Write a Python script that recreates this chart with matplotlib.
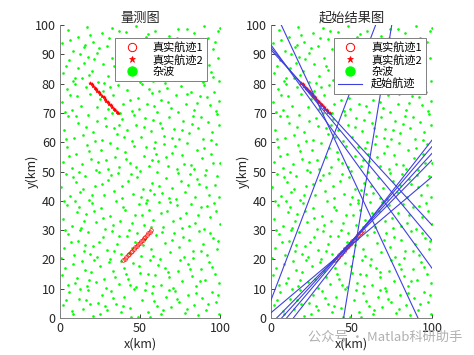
#!/usr/bin/env python3
"""
Measurement plot and track initiation result (two panels), MATLAB style.
"""

import matplotlib
matplotlib.use('Agg')
import matplotlib.pyplot as plt
from matplotlib.lines import Line2D

plt.rcParams['font.family'] = ['Noto Sans CJK SC', 'DejaVu Sans']

# true track 1 (red circles), km
track1_x = [39.6, 40.5, 41.4, 42.4, 43.3, 44.2, 45.1, 46.0, 47.0, 47.9,
            48.8, 49.7, 50.6, 51.6, 52.5, 53.4, 54.3, 55.2, 56.2, 57.1]
track1_y = [19.8, 20.3, 20.9, 21.4, 21.9, 22.5, 23.0, 23.5, 24.1, 24.6,
            25.1, 25.7, 26.2, 26.7, 27.3, 27.8, 28.3, 28.9, 29.4, 29.9]

# true track 2 (red asterisks), km
track2_x = [18.8, 19.7, 20.6, 21.6, 22.5, 23.4, 24.4, 25.3, 26.2, 27.2,
            28.1, 29.0, 30.0, 30.9, 31.8, 32.8, 33.7, 34.6, 35.6, 36.5]
track2_y = [80.3, 79.7, 79.2, 78.6, 78.1, 77.5, 77.0, 76.4, 75.9, 75.3,
            74.8, 74.2, 73.7, 73.1, 72.6, 72.0, 71.5, 70.9, 70.4, 69.9]

# clutter points (x, y) in km
clutter = [
    (2.1, 4.3), (5.7, 8.9), (8.3, 1.2), (11.9, 6.4), (14.2, 3.1), (17.8, 9.5), (20.4, 0.8), (23.6, 5.2),
    (26.1, 7.7), (29.5, 2.6), (31.8, 9.1), (35.2, 4.8), (37.9, 1.9), (40.3, 7.3), (43.7, 3.5), (46.2, 9.8),
    (48.8, 0.5), (51.4, 6.1), (54.9, 2.2), (57.3, 8.4), (60.6, 4.0), (63.1, 1.3), (66.5, 7.0), (69.2, 3.8),
    (71.7, 9.3), (74.4, 5.6), (77.8, 1.7), (80.1, 8.0), (83.6, 4.4), (86.3, 0.9), (89.0, 6.8), (91.5, 2.9),
    (94.8, 9.0), (97.7, 5.3), (99.2, 1.5), (3.9, 6.2), (7.4, 2.3), (12.8, 9.9), (18.6, 4.9), (24.7, 1.4),
    (33.3, 6.9), (39.1, 4.1), (44.6, 0.3), (52.8, 9.4), (58.9, 5.9), (64.2, 2.8), (72.9, 6.6), (79.3, 3.2),
    (85.1, 8.7), (92.7, 4.7), (98.6, 7.9), (16.0, 6.0), (28.0, 4.0), (56.0, 0.2), (67.9, 9.6),
    (1.3, 14.6), (4.8, 11.2), (7.9, 18.3), (10.5, 13.7), (13.6, 19.4), (16.7, 10.9), (19.2, 15.8), (22.8, 12.4),
    (25.3, 17.6), (28.9, 10.2), (30.7, 19.0), (34.1, 14.1), (36.6, 11.7), (39.8, 16.9), (42.4, 13.2), (45.9, 18.8),
    (47.5, 10.6), (50.2, 15.3), (53.7, 12.0), (56.4, 19.7), (59.1, 14.8), (62.8, 11.4), (65.3, 17.1), (68.0, 13.9),
    (70.9, 10.4), (73.6, 16.2), (76.2, 12.7), (79.7, 18.5), (82.3, 14.3), (84.9, 11.0), (88.4, 16.6), (90.8, 13.0),
    (93.3, 19.2), (96.9, 15.1), (99.5, 11.8), (3.2, 17.2), (9.1, 12.1), (15.4, 16.4), (21.5, 19.8), (27.2, 13.4),
    (32.9, 16.0), (38.3, 19.5), (44.0, 11.3), (49.6, 17.9), (55.0, 14.9), (61.3, 18.1), (67.4, 15.6), (74.8, 19.9),
    (81.0, 16.8), (87.2, 12.5), (95.1, 17.4), (57.8, 10.8), (18.0, 13.0), (41.2, 15.0),
    (2.7, 23.9), (5.1, 28.7), (8.8, 21.4), (11.3, 26.2), (14.9, 22.8), (17.4, 29.3), (20.9, 24.6), (23.1, 20.7),
    (26.8, 27.5), (29.4, 23.3), (32.6, 29.8), (35.7, 25.1), (38.2, 21.8), (41.9, 27.9), (45.3, 24.0), (48.1, 29.0),
    (50.8, 21.2), (53.3, 26.8), (56.9, 23.6), (59.7, 28.3), (62.2, 20.3), (65.8, 25.7), (68.6, 22.4), (71.2, 28.9),
    (74.1, 24.3), (77.3, 20.9), (80.5, 26.5), (83.2, 23.0), (86.7, 29.6), (89.6, 25.4), (92.1, 21.6), (95.4, 27.2),
    (98.3, 23.5), (0.6, 20.5), (6.9, 25.8), (12.6, 29.9), (19.0, 21.9), (24.4, 26.0), (31.1, 20.2), (36.9, 28.1),
    (43.1, 22.2), (52.0, 24.8), (58.3, 21.0), (63.9, 29.4), (70.0, 26.7), (76.6, 27.8), (82.9, 20.6), (88.1, 22.7),
    (94.0, 29.1), (99.0, 26.3), (47.0, 26.0), (15.8, 25.0), (34.0, 23.0),
    (1.9, 33.8), (4.4, 38.6), (7.2, 31.3), (10.8, 36.1), (13.1, 30.8), (16.3, 35.5), (19.7, 39.2), (22.2, 32.7),
    (25.9, 37.4), (28.3, 30.4), (31.4, 34.9), (34.8, 39.8), (37.4, 33.2), (40.6, 36.8), (43.4, 30.1), (46.8, 35.0),
    (49.3, 38.9), (52.6, 31.7), (55.5, 37.0), (58.1, 33.6), (61.7, 39.5), (64.4, 31.0), (67.1, 36.5), (70.5, 33.0),
    (73.3, 38.4), (76.0, 30.6), (79.0, 35.8), (81.8, 39.0), (84.3, 32.4), (87.9, 37.8), (90.2, 30.3), (93.7, 34.4),
    (96.2, 39.4), (99.7, 32.0), (3.0, 30.0), (9.6, 39.9), (15.0, 33.0), (21.0, 36.4), (27.0, 34.0), (33.2, 31.9),
    (39.4, 38.0), (45.0, 32.5), (51.0, 35.3), (57.0, 30.9), (62.9, 36.0), (69.0, 39.7), (75.0, 34.1), (80.9, 31.5),
    (86.0, 35.2), (91.9, 38.2), (97.5, 36.6), (54.0, 39.3), (12.0, 37.9),
    (0.9, 44.7), (3.7, 49.1), (6.4, 41.6), (9.9, 46.3), (12.4, 42.9), (15.6, 48.6), (18.3, 40.4), (21.7, 45.2),
    (24.1, 49.7), (27.6, 41.9), (30.2, 47.0), (33.6, 43.4), (36.3, 49.4), (39.0, 40.9), (42.7, 46.6), (45.5, 42.3),
    (48.4, 48.0), (51.9, 44.1), (54.2, 40.2), (57.6, 46.0), (60.3, 49.9), (63.6, 42.6), (66.2, 47.7), (69.7, 44.4),
    (72.3, 40.7), (75.8, 46.9), (78.4, 43.1), (81.4, 49.3), (84.6, 41.2), (87.0, 45.9), (90.6, 48.8), (93.0, 42.0),
    (96.6, 45.5), (99.3, 41.3), (2.4, 40.1), (8.0, 48.2), (14.3, 44.0), (20.2, 42.1), (26.4, 45.7), (32.1, 48.9),
    (38.6, 44.9), (44.3, 49.0), (50.5, 41.4), (56.2, 43.7), (62.0, 45.0), (67.8, 41.0), (73.9, 49.6), (79.9, 45.4),
    (85.7, 47.3), (91.4, 44.6), (97.9, 48.4), (59.0, 42.2),
    (1.6, 53.2), (4.1, 58.4), (7.7, 51.1), (10.2, 55.9), (13.8, 52.5), (16.9, 59.0), (19.4, 54.3), (22.5, 50.6),
    (25.6, 57.2), (28.6, 53.8), (31.2, 59.6), (34.4, 55.0), (37.1, 51.4), (40.9, 56.6), (43.9, 52.8), (46.5, 58.8),
    (49.9, 50.3), (52.4, 55.4), (55.8, 52.0), (58.6, 57.9), (61.1, 53.5), (64.8, 59.3), (67.6, 51.8), (70.2, 56.4),
    (73.0, 50.9), (76.4, 55.6), (79.5, 59.8), (82.0, 52.2), (85.4, 57.5), (88.7, 54.6), (91.2, 50.4), (94.3, 56.1),
    (97.2, 59.4), (99.8, 53.0), (5.8, 55.2), (11.8, 50.0), (17.9, 56.9), (23.8, 53.1), (29.8, 51.0), (35.9, 58.1),
    (41.4, 54.2), (47.6, 51.6), (53.9, 58.3), (60.0, 56.0), (66.0, 54.8), (71.9, 58.6), (77.7, 52.6), (83.8, 50.7),
    (89.9, 58.0), (95.8, 52.9), (57.2, 54.0),
    (2.2, 64.1), (5.3, 68.9), (8.6, 61.5), (11.1, 66.7), (14.5, 62.3), (17.2, 69.4), (20.7, 63.6), (23.4, 67.2),
    (26.3, 60.9), (29.0, 65.5), (32.3, 69.8), (35.5, 62.8), (38.8, 67.9), (41.6, 64.3), (44.8, 60.5), (47.8, 66.0),
    (50.6, 61.9), (53.1, 68.1), (56.7, 63.9), (59.4, 60.2), (62.5, 66.4), (65.0, 62.0), (68.3, 68.6), (71.0, 64.6),
    (74.6, 61.2), (77.1, 67.4), (80.3, 63.2), (83.0, 69.1), (86.1, 65.0), (89.3, 61.0), (92.4, 67.0), (95.0, 63.5),
    (98.0, 69.6), (4.0, 61.0), (10.0, 69.0), (16.0, 65.2), (22.0, 60.3), (27.9, 68.3), (33.9, 64.8), (40.0, 61.7),
    (46.0, 69.2), (52.2, 65.1), (58.0, 67.6), (64.0, 64.9), (69.9, 61.4), (76.0, 64.0), (82.2, 66.1), (88.0, 68.5),
    (94.1, 60.8), (99.4, 65.8), (37.0, 66.0),
    (1.0, 73.6), (4.6, 78.2), (7.3, 71.0), (10.7, 75.7), (13.3, 72.4), (16.1, 79.0), (22.9, 72.0), (26.6, 77.6),
    (29.7, 71.5), (33.0, 76.2), (36.0, 79.5), (39.3, 73.2), (42.1, 77.9), (45.1, 70.6), (48.6, 75.1), (51.2, 79.8),
    (54.5, 72.9), (57.5, 76.8), (60.9, 70.4), (63.4, 74.5), (66.9, 78.6), (69.5, 71.8), (72.6, 76.0), (75.3, 79.3),
    (78.8, 73.0), (81.6, 77.1), (84.0, 70.9), (87.6, 75.8), (90.0, 79.6), (93.5, 72.6), (96.4, 77.3), (99.1, 74.0),
    (3.4, 70.2), (9.2, 79.9), (18.8, 76.4), (24.9, 74.6), (31.0, 78.8), (37.8, 70.1), (43.6, 74.3), (49.1, 71.2),
    (55.6, 78.1), (61.8, 77.4), (67.7, 73.7), (73.8, 70.3), (79.6, 76.6), (85.6, 73.4), (91.7, 75.3), (97.6, 70.7),
    (58.7, 72.2), (6.0, 76.0),
    (2.0, 83.5), (5.5, 88.1), (8.1, 80.8), (11.5, 85.4), (14.0, 81.9), (17.6, 89.0), (20.1, 84.2), (23.7, 80.4),
    (26.9, 86.7), (29.9, 82.6), (32.8, 88.9), (35.1, 84.8), (38.5, 81.3), (41.3, 87.3), (44.2, 83.0), (47.3, 89.5),
    (50.0, 80.7), (53.5, 85.8), (56.1, 82.1), (59.8, 88.4), (62.6, 84.5), (65.6, 80.2), (68.8, 86.2), (71.5, 82.9),
    (74.2, 89.3), (77.5, 85.1), (80.6, 81.5), (83.3, 87.5), (86.6, 83.7), (89.5, 80.5), (92.9, 86.5), (95.6, 82.3),
    (98.8, 88.7), (3.6, 86.0), (9.5, 82.0), (15.3, 86.9), (21.3, 88.3), (27.8, 80.1), (34.0, 86.1), (40.1, 84.0),
    (46.0, 86.6), (52.1, 83.3), (58.4, 80.9), (64.6, 88.0), (70.7, 85.7), (76.8, 81.1), (82.7, 84.9), (88.9, 89.8),
    (94.5, 84.1), (99.6, 81.0), (18.2, 82.8),
    (1.4, 93.7), (4.9, 98.4), (8.4, 91.2), (11.0, 96.0), (14.8, 92.6), (17.0, 99.3), (20.6, 94.1), (23.3, 90.5),
    (26.2, 97.1), (29.2, 93.0), (32.5, 99.0), (35.6, 95.2), (38.1, 91.7), (41.5, 97.6), (44.5, 93.4), (47.7, 99.7),
    (50.9, 90.9), (53.6, 95.9), (56.6, 92.3), (59.6, 98.1), (62.3, 94.4), (65.4, 90.3), (68.1, 96.3), (71.4, 92.8),
    (74.0, 98.8), (77.0, 94.9), (80.0, 91.4), (83.5, 97.4), (86.4, 93.1), (89.8, 99.5), (92.6, 95.7), (95.3, 91.9),
    (98.5, 97.8), (6.5, 95.0), (12.2, 90.1), (18.5, 96.6), (24.6, 92.0), (30.5, 95.5), (36.8, 97.9), (42.9, 90.7),
    (48.9, 94.6), (55.2, 97.0), (61.0, 91.1), (67.2, 93.9), (73.2, 95.4), (79.1, 98.6), (85.0, 90.6), (91.0, 93.6),
    (97.0, 94.2), (99.9, 99.1), (15.9, 93.3),
]
clutter_x = [p[0] for p in clutter]
clutter_y = [p[1] for p in clutter]

# initiated tracks: end points of each straight segment (x0, y0, x1, y1), km
start_tracks = [
    (6.4, 100.0, 91.3, 0.0),
    (0.0, 93.2, 100.0, 17.0),
    (0.0, 92.3, 100.0, 26.5),
    (0.0, 91.5, 100.0, 31.7),
    (0.0, 6.1, 65.0, 100.0),
    (45.1, 0.0, 75.0, 100.0),
    (0.0, 1.8, 100.0, 48.2),
    (3.5, 0.0, 100.0, 53.9),
    (6.6, 0.0, 100.0, 56.2),
    (9.7, 0.0, 100.0, 58.5),
    (13.9, 0.0, 100.0, 60.7),
]

titles = ['量测图', '起始结果图']
legend_labels = ['真实航迹1', '真实航迹2', '杂波', '起始航迹']

GREEN = '#00ff00'
RED = '#ff0000'
LINE_BLUE = '#4040e0'
AXIS_GREY = '#262626'


def style_axes(ax, title):
    ax.set_xlim(0, 100)
    ax.set_ylim(0, 100)
    ax.set_xticks([0, 50, 100])
    ax.set_yticks(range(0, 101, 10))
    ax.tick_params(direction='in', length=3, width=0.6, colors=AXIS_GREY,
                   labelsize=9, pad=3)
    for side in ['top', 'right']:
        ax.spines[side].set_visible(False)
    for side in ['left', 'bottom']:
        ax.spines[side].set_color('#808080')
        ax.spines[side].set_linewidth(0.7)
    ax.set_xlabel('x(km)', fontsize=9, color=AXIS_GREY, labelpad=2)
    ax.set_ylabel('y(km)', fontsize=9, color=AXIS_GREY, labelpad=-3)
    ax.set_title(title, fontsize=9.5, color=AXIS_GREY, pad=2)


def draw_measurements(ax):
    ax.plot(clutter_x, clutter_y, linestyle='none', marker='.', color=GREEN,
            markersize=1.8, zorder=2)
    ax.plot(track1_x, track1_y, linestyle='none', marker='o', markersize=2.6,
            markerfacecolor='none', markeredgecolor=RED, markeredgewidth=0.5, zorder=3)
    ax.plot(track2_x, track2_y, linestyle='none', marker='*', markersize=2.6,
            color=RED, markeredgewidth=0.4, zorder=3)


def legend_handles(with_lines):
    hs = [
        Line2D([], [], linestyle='none', marker='o', markersize=6,
               markerfacecolor='none', markeredgecolor=RED, markeredgewidth=0.7),
        Line2D([], [], linestyle='none', marker='*', markersize=5, color=RED,
               markeredgewidth=0.5),
        Line2D([], [], linestyle='none', marker='o', markersize=6.5, color=GREEN),
    ]
    if with_lines:
        hs.append(Line2D([], [], color=LINE_BLUE, linewidth=0.8))
    return hs


fig = plt.figure(figsize=(4.74, 3.55), dpi=100)
ax1 = fig.add_axes([0.1266, 0.1042, 0.3376, 0.8254])
ax2 = fig.add_axes([0.5717, 0.1042, 0.3397, 0.8254])

# left: measurements only
draw_measurements(ax1)
style_axes(ax1, titles[0])
leg1 = ax1.legend(legend_handles(False), legend_labels[:3], loc='upper right',
                  bbox_to_anchor=(0.955, 0.975), fontsize=8, handlelength=2.2,
                  handletextpad=0.8, borderpad=0.35, labelspacing=0.15,
                  fancybox=False, framealpha=1, edgecolor='#808080')
leg1.get_frame().set_linewidth(0.7)

# right: measurements plus initiated tracks
draw_measurements(ax2)
for x0, y0, x1, y1 in start_tracks:
    ax2.plot([x0, x1], [y0, y1], color=LINE_BLUE, linewidth=0.8, zorder=4)
style_axes(ax2, titles[1])
leg2 = ax2.legend(legend_handles(True), legend_labels, loc='upper right',
                  bbox_to_anchor=(0.995, 0.975), fontsize=8, handlelength=2.2,
                  handletextpad=0.8, borderpad=0.35, labelspacing=0.15,
                  fancybox=False, framealpha=1, edgecolor='#808080')
leg2.get_frame().set_linewidth(0.7)
leg2.set_zorder(5)

# watermark from the source picture
fig.text(0.65, 0.05, '公众号 · Matlab科研助手', fontsize=9.5, color='#a8a8a8',
         alpha=0.9, ha='left', va='center', zorder=10)

fig.savefig('out.png', dpi=100)
